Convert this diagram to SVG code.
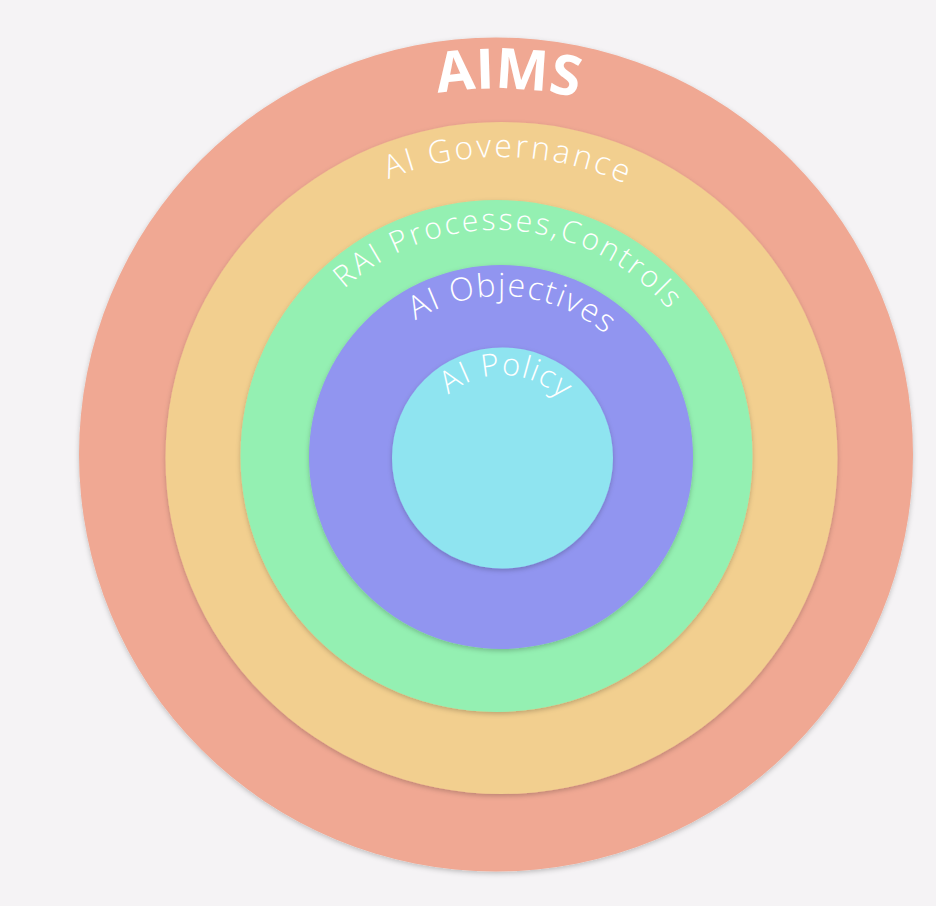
<svg xmlns="http://www.w3.org/2000/svg" xmlns:xlink="http://www.w3.org/1999/xlink" width="936" height="906" viewBox="0 0 936 906">
<defs>
<style>
.lbl{fill:#ffffff;font-family:"Open Sans","Liberation Sans",sans-serif;font-weight:300;text-anchor:middle}
.big{font-weight:700}
</style>
<filter id="sh" x="-10%" y="-10%" width="120%" height="120%">
<feDropShadow dx="0" dy="2" stdDeviation="2.5" flood-color="#000" flood-opacity="0.22"/>
</filter>
<path id="pAIMS" d="M496,820.5 A366,366 0 0 1 496,88.5 A366,366 0 0 1 496,820.5"/>
<path id="pGov" d="M501.5,759 A301,301 0 0 1 501.5,157 A301,301 0 0 1 501.5,759"/>
<path id="pRAI" d="M496.5,682 A226,226 0 0 1 496.5,230 A226,226 0 0 1 496.5,682"/>
<path id="pObj" d="M501,618 A161,161 0 0 1 501,296 A161,161 0 0 1 501,618"/>
<path id="pPol" d="M502.5,541 A83,83 0 0 1 502.5,375 A83,83 0 0 1 502.5,541"/>
</defs>
<rect width="936" height="906" fill="#F5F3F5"/>
<g id="aims">
<circle cx="496" cy="454.5" r="417" fill="#F0A893" filter="url(#sh)"/>
<text class="lbl big" font-size="56"><textPath href="#pAIMS" startOffset="1161">AIMS</textPath></text>
</g>
<g id="governance">
<circle cx="501.5" cy="458" r="336" fill="#F2CF8F" filter="url(#sh)"/>
<text class="lbl" font-size="32" letter-spacing="2.8"><textPath href="#pGov" startOffset="952">AI Governance</textPath></text>
</g>
<g id="processes">
<circle cx="496.5" cy="456" r="256" fill="#94F0B2" filter="url(#sh)"/>
<text class="lbl" font-size="30" letter-spacing="2.6"><textPath href="#pRAI" startOffset="725">RAI Processes,Controls</textPath></text>
</g>
<g id="objectives">
<circle cx="501" cy="457" r="192" fill="#9195F0" filter="url(#sh)"/>
<text class="lbl" font-size="32" letter-spacing="1.6"><textPath href="#pObj" startOffset="518">AI Objectives</textPath></text>
</g>
<g id="policy">
<circle cx="502.5" cy="458" r="110.5" fill="#8FE4F0" filter="url(#sh)"/>
<text class="lbl" font-size="31" letter-spacing="1.2"><textPath href="#pPol" startOffset="264">AI Policy</textPath></text>
</g>
<g id="connectors"/>
</svg>
